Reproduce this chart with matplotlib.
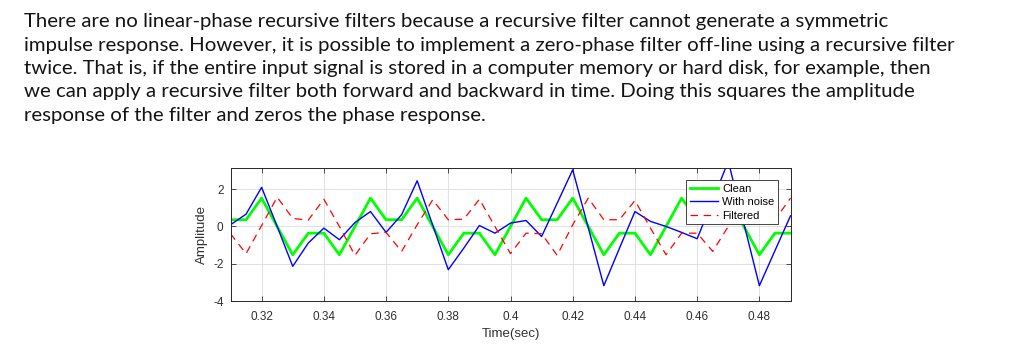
import matplotlib
matplotlib.use('Agg')
import matplotlib.pyplot as plt
import numpy as np

plt.rcParams['axes.unicode_minus'] = False

W, H = 1017, 346

paragraph = [
    "There are no linear-phase recursive filters because a recursive filter cannot generate a symmetric",
    "impulse response. However, it is possible to implement a zero-phase filter off-line using a recursive filter",
    "twice. That is, if the entire input signal is stored in a computer memory or hard disk, for example, then",
    "we can apply a recursive filter both forward and backward in time. Doing this squares the amplitude",
    "response of the filter and zeros the phase response.",
]

t = [0.310, 0.315, 0.320, 0.325, 0.330, 0.335, 0.340, 0.345, 0.350, 0.355,
     0.360, 0.365, 0.370, 0.375, 0.380, 0.385, 0.390, 0.395, 0.400, 0.405,
     0.410, 0.415, 0.420, 0.425, 0.430, 0.435, 0.440, 0.445, 0.450, 0.455,
     0.460, 0.465, 0.470, 0.475, 0.480, 0.485, 0.490]

clean = [0.36, 0.36, 1.52, 0.00, -1.52, -0.36, -0.36, -1.52, 0.00, 1.52,
         0.36, 0.36, 1.52, 0.00, -1.52, -0.36, -0.36, -1.52, 0.00, 1.52,
         0.36, 0.36, 1.52, 0.00, -1.52, -0.36, -0.36, -1.52, 0.00, 1.52,
         0.36, 0.36, 1.52, 0.00, -1.52, -0.36, -0.36]

noisy = [0.09, 0.66, 2.10, 0.00, -2.14, -0.89, -0.09, -0.71, 0.21, 0.80,
         -0.32, 0.63, 2.45, 0.07, -2.32, -1.16, 0.05, -0.36, 0.18, 0.32,
         -0.54, 1.25, 3.04, -0.07, -3.18, -1.18, 0.80, 0.27, 0.00, -0.32,
         -0.66, 1.40, 3.50, 0.16, -3.18, -1.30, 0.57]

filtered = [-0.39, -1.46, 0.05, 1.57, 0.43, 0.34, 1.46, 0.00, -1.55, -0.39,
            -0.32, -1.34, 0.09, 1.43, 0.36, 0.39, 1.46, 0.00, -1.46, -0.36,
            -0.39, -1.55, 0.09, 1.52, 0.36, 0.36, 1.39, -0.09, -1.52, -0.36,
            -0.36, -1.34, 0.00, 1.45, 0.36, 0.36, 1.52]

xticks = [0.32, 0.34, 0.36, 0.38, 0.40, 0.42, 0.44, 0.46, 0.48]
xticklabels = ['0.32', '0.34', '0.36', '0.38', '0.4', '0.42', '0.44', '0.46', '0.48']
yticks = [-4, -2, 0, 2]

fig = plt.figure(figsize=(W / 100, H / 100), dpi=100)

# paragraph text, sized so the longest line spans its width in the page
txt_col = '#141414'
probe = fig.text(0, 0, paragraph[1], family='Lato', fontsize=14)
fig.canvas.draw()
w = probe.get_window_extent().width
probe.remove()
fs = 14 * 933 / w
baselines = [27.3, 50.7, 74.0, 97.3, 120.7]
for line, yb in zip(paragraph, baselines):
    fig.text(24 / W, 1 - yb / H, line, family='Lato', fontsize=fs,
             color=txt_col, va='baseline', ha='left')

plt.rcParams['font.family'] = 'Liberation Sans'
ax = fig.add_axes([230.5 / W, 1 - 301 / H, 560 / W, (301 - 168.3) / H])
tick_col = '#303030'
ax.plot(t, clean, color='#00ff00', lw=2.0, label='Clean')
ax.plot(t, noisy, color='#0000ff', lw=1.0, label='With noise')
ax.plot(t, filtered, color='#ff0000', lw=0.9, ls=(0, (6, 4.5)), label='Filtered')

ax.set_xlim(0.31, 0.49)
ax.set_ylim(-4, 3.12)
ax.set_xticks(xticks)
ax.set_xticklabels(xticklabels)
ax.set_yticks(yticks)
ax.grid(True, color='#dcdcdc', lw=0.6)
ax.set_axisbelow(True)
ax.tick_params(direction='in', length=3.6, width=0.6, top=True, right=True,
               labelsize=8.5, colors=tick_col)
ax.tick_params(axis='x', pad=7)
ax.tick_params(axis='y', pad=5)
for sp in ax.spines.values():
    sp.set_color('#262626')
    sp.set_linewidth(0.7)
ax.set_xlabel('Time(sec)', fontsize=9.5, color=tick_col, labelpad=4)
ax.set_ylabel('Amplitude', fontsize=9.5, color=tick_col, labelpad=4)

leg = ax.legend(loc='upper right', bbox_to_anchor=(0.978, 0.912), fontsize=8,
                frameon=True, fancybox=False, framealpha=1, edgecolor='#262626',
                handlelength=2.5, handletextpad=0.35, borderpad=0.35,
                labelspacing=0.3, borderaxespad=0)
leg.get_frame().set_linewidth(0.6)

fig.savefig('out.png', dpi=100)
